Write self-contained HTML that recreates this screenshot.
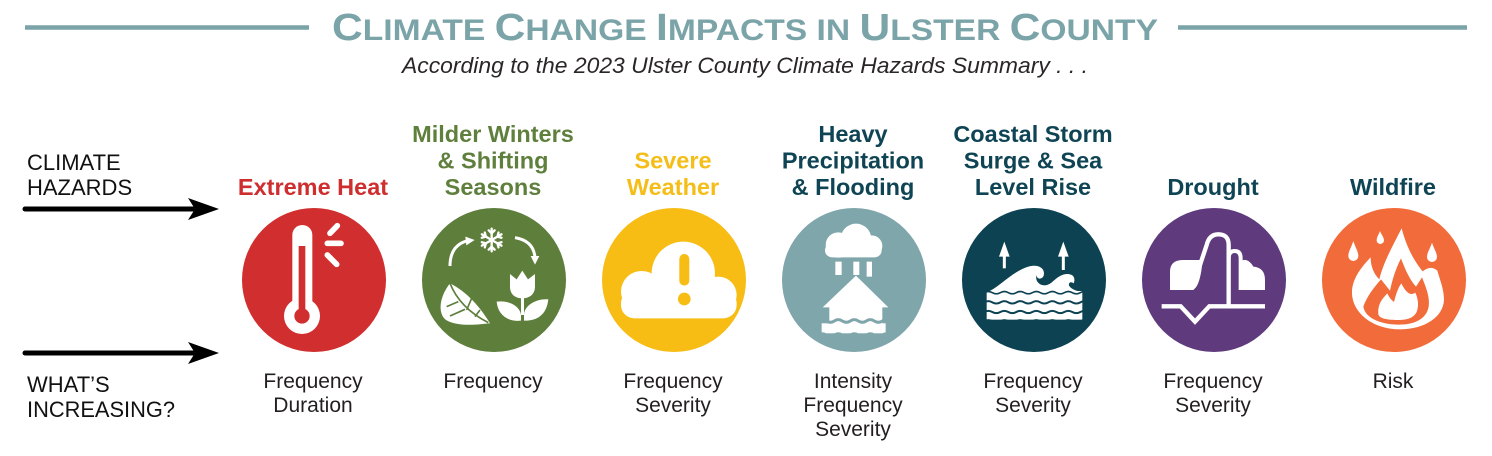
<!DOCTYPE html>
<html><head><meta charset="utf-8"><style>
html,body{margin:0;padding:0;background:#fff;}
svg{display:block;}
text{font-family:"Liberation Sans",sans-serif;}
</style></head><body>
<svg width="1492" height="456" viewBox="0 0 1492 456" xmlns="http://www.w3.org/2000/svg">
<!-- Title -->
<line x1="25" y1="27.5" x2="309" y2="27.5" stroke="#7ba4a9" stroke-width="4.5"/>
<line x1="1178" y1="27.5" x2="1467" y2="27.5" stroke="#7ba4a9" stroke-width="4.5"/>
<text x="332" y="40" font-weight="bold" fill="#7ba4a9" textLength="826" lengthAdjust="spacingAndGlyphs"><tspan font-size="38">C</tspan><tspan font-size="30">LIMATE </tspan><tspan font-size="38">C</tspan><tspan font-size="30">HANGE </tspan><tspan font-size="38">I</tspan><tspan font-size="30">MPACTS IN </tspan><tspan font-size="38">U</tspan><tspan font-size="30">LSTER </tspan><tspan font-size="38">C</tspan><tspan font-size="30">OUNTY</tspan></text>
<text x="402" y="73" font-size="22" font-style="italic" fill="#2a2627" textLength="686" lengthAdjust="spacingAndGlyphs">According to the 2023 Ulster County Climate Hazards Summary . . .</text>

<!-- Left labels -->
<text x="27" y="170" font-size="22" fill="#111">CLIMATE</text>
<text x="27" y="195" font-size="22" fill="#111">HAZARDS</text>
<path d="M25,209 H195" stroke="#000" stroke-width="5" stroke-linecap="round"/>
<path d="M188,198 L219,209 L188,220 L195,209 Z" fill="#000"/>
<path d="M25,353 H195" stroke="#000" stroke-width="5" stroke-linecap="round"/>
<path d="M188,342 L219,353 L188,364 L195,353 Z" fill="#000"/>
<text x="27" y="392" font-size="22" fill="#111">WHAT’S</text>
<text x="27" y="417" font-size="22" fill="#111" textLength="148" lengthAdjust="spacingAndGlyphs">INCREASING?</text>

<!-- Hazard titles -->
<g font-size="23.5" font-weight="bold" text-anchor="middle">
<text x="313" y="195" fill="#cf2e2f">Extreme Heat</text>
<text x="493" y="142" fill="#5f7f3c">Milder Winters</text>
<text x="493" y="168.5" fill="#5f7f3c">&amp; Shifting</text>
<text x="493" y="195" fill="#5f7f3c">Seasons</text>
<text x="673" y="168.5" fill="#f5bd17">Severe</text>
<text x="673" y="195" fill="#f5bd17">Weather</text>
<text x="853" y="142" fill="#0f4454">Heavy</text>
<text x="853" y="168.5" fill="#0f4454">Precipitation</text>
<text x="853" y="195" fill="#0f4454">&amp; Flooding</text>
<text x="1033" y="142" fill="#0f4454">Coastal Storm</text>
<text x="1033" y="168.5" fill="#0f4454">Surge &amp; Sea</text>
<text x="1033" y="195" fill="#0f4454">Level Rise</text>
<text x="1213" y="195" fill="#0f4454">Drought</text>
<text x="1393" y="195" fill="#0f4454">Wildfire</text>
</g>

<!-- Circles -->
<circle cx="314" cy="280" r="72" fill="#d12f2f"/>
<circle cx="494" cy="280" r="72" fill="#5e7e3c"/>
<circle cx="674" cy="280" r="72" fill="#f7bd15"/>
<circle cx="854" cy="280" r="72" fill="#7fa6ab"/>
<circle cx="1034" cy="280" r="72" fill="#0c4252"/>
<circle cx="1214" cy="280" r="72" fill="#5f3b7d"/>
<circle cx="1394" cy="280" r="72" fill="#f26b3a"/>

<!-- Thermometer -->
<g transform="translate(230,200) scale(0.3333)">
<rect x="187" y="75" width="60" height="265" rx="30" fill="#fff"/>
<circle cx="216" cy="348" r="54" fill="#fff"/>
<rect x="206" y="138" width="20" height="205" fill="#d12f2f"/>
<circle cx="216" cy="348" r="23" fill="#d12f2f"/>
<g stroke="#fff" stroke-width="17" stroke-linecap="round">
<line x1="300" y1="100" x2="322" y2="77"/>
<line x1="292" y1="130" x2="333" y2="130"/>
<line x1="292" y1="165" x2="320" y2="193"/>
</g>
</g>

<!-- Green seasons -->
<g transform="translate(400,110) scale(0.3333)">
<g stroke="#fff" stroke-width="7" stroke-linecap="round" transform="translate(275,390)">
<g id="arm"><line x1="0" y1="0" x2="0" y2="-34"/><line x1="0" y1="-20" x2="-9" y2="-29"/><line x1="0" y1="-20" x2="9" y2="-29"/></g>
<use href="#arm" transform="rotate(60)"/><use href="#arm" transform="rotate(120)"/><use href="#arm" transform="rotate(180)"/><use href="#arm" transform="rotate(240)"/><use href="#arm" transform="rotate(300)"/>
</g>
<path d="M150,468 Q150,408 200,393" stroke="#fff" stroke-width="9" fill="none"/>
<path d="M196,380 L224,390 L199,406 Z" fill="#fff"/>
<path d="M345,383 Q400,392 405,442" stroke="#fff" stroke-width="9" fill="none"/>
<path d="M392,438 L405,464 L418,438 Z" fill="#fff"/>
<path d="M150,520 C118,560 112,610 138,630 C170,650 230,645 270,640 C240,590 200,545 150,520 Z" fill="#fff"/>
<g stroke="#5e7e3c" stroke-width="5" fill="none">
<path d="M150,520 C170,570 210,610 265,638"/>
<path d="M175,575 L140,590 M195,598 L150,618 M200,600 L215,565 M225,620 L240,600"/>
</g>
<path d="M330,492 L350,508 L367,482 L384,508 L405,492 L405,530 C405,552 390,565 367,565 C344,565 330,552 330,530 Z" fill="#fff"/>
<rect x="363" y="560" width="9" height="55" fill="#fff"/>
<path d="M290,575 C330,570 360,590 363,615 L363,632 C330,636 294,620 290,575 Z" fill="#fff"/>
<path d="M445,568 C410,565 375,585 372,612 L372,632 C410,633 440,615 445,568 Z" fill="#fff"/>
</g>

<!-- Yellow cloud -->
<g transform="translate(400,110) scale(0.3333)">
<circle cx="725" cy="545" r="62" fill="#fff"/>
<circle cx="850" cy="490" r="95" fill="#fff"/>
<circle cx="955" cy="555" r="55" fill="#fff"/>
<rect x="663" y="540" width="347" height="85" rx="40" fill="#fff"/>
<rect x="838" y="432" width="30" height="95" rx="15" fill="#f7bd15"/>
<circle cx="853" cy="567" r="19" fill="#f7bd15"/>
</g>

<!-- Flood -->
<g transform="translate(770,110) scale(0.3333)">
<circle cx="205" cy="405" r="38" fill="#fff"/>
<circle cx="258" cy="387" r="46" fill="#fff"/>
<circle cx="305" cy="408" r="32" fill="#fff"/>
<rect x="165" y="400" width="170" height="42" rx="21" fill="#fff"/>
<rect x="196" y="455" width="19" height="40" fill="#fff"/>
<rect x="250" y="455" width="18" height="40" fill="#fff"/>
<rect x="290" y="455" width="16" height="45" fill="#fff"/>
<path d="M258,497 L355,592 L337,592 L337,660 L178,660 L178,592 L158,592 Z" fill="#fff"/>
<rect x="155" y="640" width="192" height="30" fill="#fff"/>
<path d="M145,633 q12,-8 24,0 t24,0 t24,0 t24,0 t24,0 t24,0 t24,0 t24,0 t24,0" stroke="#7fa6ab" stroke-width="9" fill="none"/>
<path d="M145,675 q12,-8 24,0 t24,0 t24,0 t24,0 t24,0 t24,0 t24,0 t24,0 t24,0" stroke="#7fa6ab" stroke-width="8" fill="none"/>
</g>

<!-- Coastal -->
<g transform="translate(975,225) scale(0.3333)">
<g stroke="#fff" stroke-width="9"><line x1="88" y1="130" x2="88" y2="80"/><line x1="265" y1="135" x2="265" y2="80"/></g>
<path d="M72,95 L88,50 L104,95 Z M249,95 L265,50 L281,95 Z" fill="#fff"/>
<path d="M35,202 C70,190 110,140 160,125 C190,116 212,130 206,152 C200,166 184,162 185,150 C178,168 196,186 216,180 C236,174 245,150 275,147 C296,146 302,160 296,175 C289,169 280,171 282,182 C290,195 310,200 322,200 Z" fill="#fff"/>
<rect x="35" y="198" width="287" height="86" fill="#fff"/>
<path d="M28,203 q12,-7 24,0 t24,0 t24,0 t24,0 t24,0 t24,0 t24,0 t24,0 t24,0 t24,0 t24,0 t24,0 t24,0" stroke="#0c4252" stroke-width="5" fill="none"/>
<path d="M28,232 q12,-7 24,0 t24,0 t24,0 t24,0 t24,0 t24,0 t24,0 t24,0 t24,0 t24,0 t24,0 t24,0 t24,0" stroke="#0c4252" stroke-width="6" fill="none"/>
<path d="M28,261 q12,-7 24,0 t24,0 t24,0 t24,0 t24,0 t24,0 t24,0 t24,0 t24,0 t24,0 t24,0 t24,0 t24,0" stroke="#0c4252" stroke-width="6" fill="none"/>
<path d="M28,291 q12,-7 24,0 t24,0 t24,0 t24,0 t24,0 t24,0 t24,0 t24,0 t24,0 t24,0 t24,0 t24,0 t24,0" stroke="#0c4252" stroke-width="10" fill="none"/>
</g>

<!-- Drought -->
<g transform="translate(1150,225) scale(0.3333)">
<path d="M35,244 L92,244 L135,290 L178,244 L345,244" stroke="#fff" stroke-width="13" fill="none"/>
<path d="M236,244 L236,60 Q236,28 205,28 Q178,28 170,60 L150,120" stroke="#fff" stroke-width="13" fill="none"/>
<path d="M60,195 L60,140 Q60,105 100,105 L158,105 Q152,170 137,188 L130,195 Z" fill="#fff"/>
<path d="M236,100 Q236,78 254,78 Q272,78 272,100 L272,195" stroke="#fff" stroke-width="12" fill="none"/>
<path d="M272,195 L272,112 Q280,100 295,108 Q305,115 310,125 Q345,128 345,165 L345,195 Z" fill="#fff"/>
</g>

<!-- Fire -->
<g transform="translate(1310,200) scale(0.3333)">
<path d="M270,388 C190,388 128,340 126,280 C125,240 150,205 182,172 C182,200 192,222 208,238 C218,195 242,148 275,85 C292,150 318,190 338,214 C352,204 366,198 382,212 C390,240 402,268 402,300 C400,350 345,388 270,388 Z" fill="#fff"/>
<path d="M160,320 C170,290 192,262 213,238 L240,272 C248,235 258,205 273,175 C286,210 300,240 318,260 L336,232 C348,262 360,290 356,320 C350,356 315,374 268,374 C215,374 166,356 160,320 Z" fill="#f26b3a"/>
<path d="M205,342 C202,312 218,295 232,280 C238,294 245,300 252,306 C258,282 265,262 274,250 C286,274 300,290 316,278 C326,300 326,320 320,336 C310,355 290,360 265,360 C232,360 207,356 205,342 Z" fill="#fff"/>
<path d="M130,123 C125,140 115,154 115,168 A15,15 0 0 0 145,168 C145,154 135,140 130,123 Z" fill="#fff"/>
<path d="M210,93 C206,104 200,112 200,121 A11,11 0 0 0 222,121 C222,112 214,104 210,93 Z" fill="#fff"/>
<path d="M366,128 C361,145 351,158 351,171 A15,15 0 0 0 381,171 C381,158 371,145 366,128 Z" fill="#fff"/>
</g>

<!-- What's increasing -->
<g font-size="21" fill="#231f20" text-anchor="middle">
<text x="313" y="388">Frequency</text>
<text x="313" y="412">Duration</text>
<text x="493" y="388">Frequency</text>
<text x="673" y="388">Frequency</text>
<text x="673" y="412">Severity</text>
<text x="853" y="388">Intensity</text>
<text x="853" y="412">Frequency</text>
<text x="853" y="436">Severity</text>
<text x="1033" y="388">Frequency</text>
<text x="1033" y="412">Severity</text>
<text x="1213" y="388">Frequency</text>
<text x="1213" y="412">Severity</text>
<text x="1393" y="388">Risk</text>
</g>
</svg>
</body></html>
